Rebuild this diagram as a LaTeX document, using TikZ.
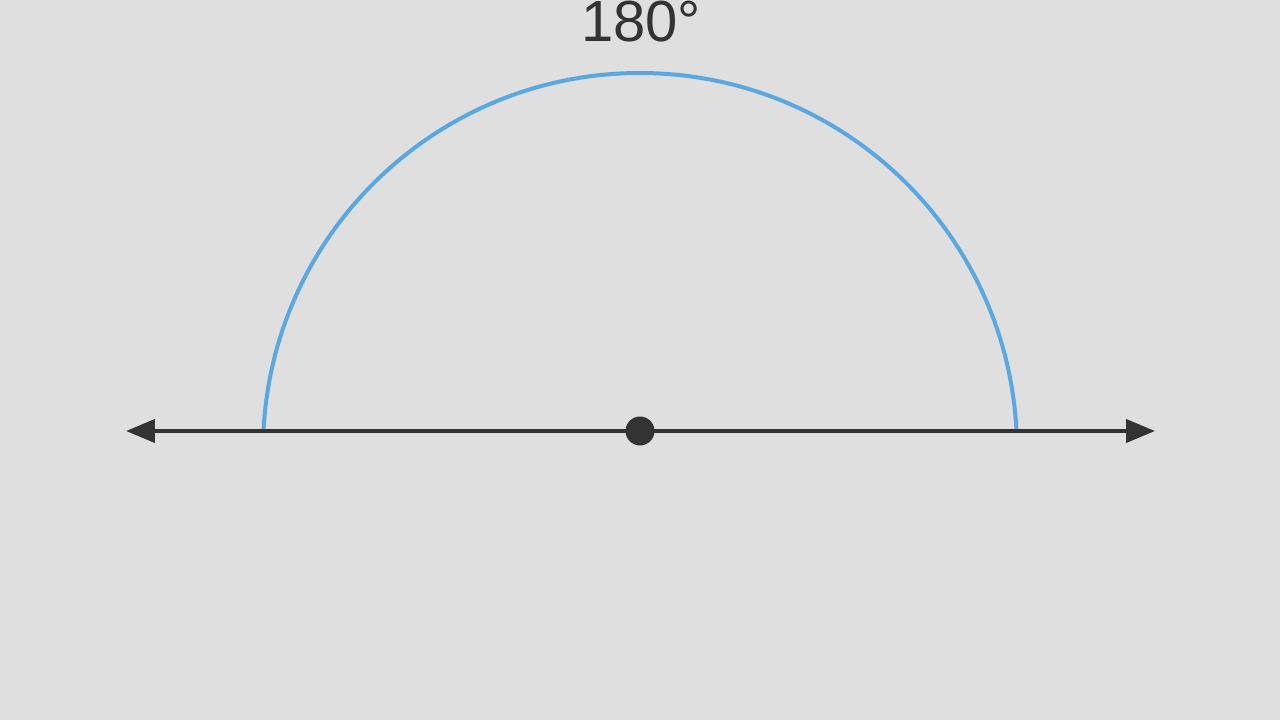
\documentclass[tikz,border=0pt]{standalone}
\usepackage{fontspec}
\setmainfont{Liberation Sans}
\usetikzlibrary{arrows.meta}

\definecolor{bggray}{HTML}{DFDFDF}
\definecolor{linegray}{HTML}{333333}
\definecolor{arcblue}{HTML}{5AA8E2}

\begin{document}
\begin{tikzpicture}
        \pgfmathsetmacro{\radius}{7.54}
        \pgfmathsetmacro{\drop}{0.38}
        \pgfmathsetmacro{\phi}{asin(\drop/\radius)}

        \fill[color=bggray] (-12.8, -5.78) rectangle (12.8, 8.62);
        \useasboundingbox (-12.8, -5.78) rectangle (12.8, 8.62);

        \coordinate (lineL) at (-10.28, 0);
        \coordinate (lineR) at (10.30, 0);
        \coordinate (centre) at (0, -\drop);

        \draw[arcblue, line width=0.08cm] (centre) ++(180-\phi:\radius)
            arc[start angle=180-\phi, end angle=\phi, radius=\radius];

        \draw[linegray, line width=0.08cm,
            {Triangle[length=0.58cm, width=0.46cm]}-{Triangle[length=0.58cm, width=0.46cm]}]
            (lineL) -- (lineR);

        \node[circle, fill=linegray, inner sep=0pt, minimum size=0.58cm] (vertex) at (0, 0) {};

        \node[anchor=base, text=linegray, font=\fontsize{33}{40}\selectfont] (angle) at (0.02, 7.78) {180°};

    \end{tikzpicture}
\end{document}
